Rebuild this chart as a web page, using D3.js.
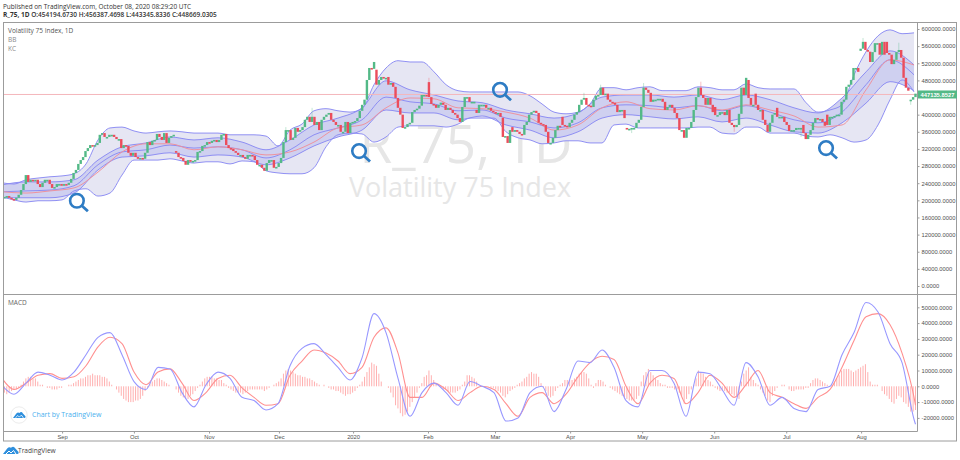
<!DOCTYPE html>
<html><head><meta charset="utf-8">
<script src="https://cdnjs.cloudflare.com/ajax/libs/d3/7.8.5/d3.min.js"></script>
<style>
html,body{margin:0;padding:0;background:#fff}
svg{display:block}
text{font-family:"Open Sans",sans-serif}
</style></head><body>
<svg id="c" width="960" height="460"></svg>
<script>
// prices in thousands, one close per daily bar
const closes=[206,208,210,206,203,201,206,213,224,238,259,243,248,245,248,238,231,241,248,248,238,229,231,238,238,234,238,236,241,250,264,271,285,294,301,315,322,329,327,329,334,353,357,348,348,353,353,348,343,343,322,329,327,311,304,311,301,297,299,297,311,336,329,339,341,355,348,341,357,334,346,350,353,311,301,299,292,283,294,290,292,294,313,315,327,329,336,334,339,341,336,341,353,355,329,322,320,315,311,306,306,301,297,306,306,304,294,283,283,276,269,287,294,294,276,278,287,299,336,364,364,341,346,369,360,364,371,388,395,383,395,376,383,364,388,395,400,404,388,383,376,376,360,360,383,357,381,383,385,392,409,423,435,481,509,507,523,470,481,488,486,486,470,474,465,439,416,400,369,371,378,381,406,411,414,421,446,446,444,441,425,423,416,423,428,423,411,416,411,404,400,392,383,418,441,441,430,430,430,404,423,423,423,416,416,409,406,402,404,395,348,350,334,364,360,364,360,355,353,376,383,400,406,409,404,381,378,376,360,334,334,346,364,374,371,376,374,371,381,388,400,406,423,435,439,423,421,418,435,444,446,463,446,449,435,430,428,423,406,411,411,392,367,367,369,369,381,388,418,463,458,451,430,435,435,437,437,430,411,418,423,416,404,392,364,364,346,369,369,383,411,441,463,446,439,423,439,423,406,399,399,406,406,399,411,381,376,371,376,402,463,446,486,439,423,423,423,411,411,388,376,360,381,400,404,395,395,395,383,376,362,364,364,369,369,369,357,343,353,364,381,392,390,390,383,374,376,395,395,397,400,400,430,435,465,470,481,509,509,500,554,570,551,547,523,546,567,567,540,570,540,544,540,518,528,546,551,533,486,463,456,435,441,449];
// bars whose open is not the previous close
const gapBars=[73,157,162,179,199,210,214,235,262,299,313,316,325,336,346,360,371,378,381];
const gapOpens=[315,505,488,476,411,393,371,395,369,418,481,449,416,376,400,549,570,533,433];
// visible wicks
const wickBars=[130,119,179,244,251,264,293,269,361,376,381,307,335];
const wickEnds=[416,371,486,451,470,357,477,474,579,568,423,360,348];
// Bollinger bands, read about every five bars
const bbUpper=[241,238,248,252,255,257,262,285,341,369,371,362,357,360,362,360,357,357,357,353,353,353,350,327,364,378,409,414,409,406,414,470,509,526,523,523,500,470,456,453,453,453,453,453,444,425,406,402,406,425,463,463,458,463,465,456,456,456,465,463,458,458,472,463,460,460,460,428,406,411,423,493,547,584,598,589,591];
const bbLower=[208,201,196,199,199,201,222,227,210,217,259,294,294,294,297,292,287,290,290,285,292,290,269,264,262,262,276,325,353,357,355,336,348,371,374,374,374,371,378,392,392,392,360,346,341,332,334,339,339,334,334,376,378,369,369,369,369,369,371,371,357,355,371,371,357,357,357,350,348,353,346,336,341,376,435,481,453];
// Keltner channel, read about every ten bars
const kcUpper=[236,243,243,248,294,325,334,348,341,346,336,318,341,376,392,416,479,458,446,432,428,411,402,392,404,441,446,446,441,446,435,446,435,416,404,439,500,549,516];
const kcLower=[206,206,206,217,271,301,304,311,301,306,301,283,299,327,348,364,411,404,404,388,397,376,364,346,360,392,400,395,390,395,383,392,376,360,357,381,427,477,456];
const kcMid=[220,222,224,234,283,313,318,329,322,325,318,299,318,353,369,388,441,430,425,409,411,392,383,369,381,416,423,421,416,421,409,421,406,388,381,406,470,528,493];
const bbMid=[220,217,222,229,266,313,332,332,318,325,318,306,313,336,369,376,416,439,437,416,414,406,392,364,376,416,430,414,411,421,411,423,411,397,371,376,458,528,516];
// MACD in thousands
const macdLine=[0.6,-5,2,9,7,4,9,20,31,34,20,3,-2,12,11,-4,-13,1,9,5,-7,-9,-15,-11,13,24,27,20,12,4,18,46,34,5,-19,-4,2,-4,-12,3,0,-4,-22,-20,-4,0,-16,-2,16,15,23,12,-9,-13,10,10,2,-19,9,8,-2,-12,15,6,-12,-7,-14,-16,-2,0,20,34,53,47,27,15,-21,-24];
const signalLine=[5,-2,2,7,8,5,6,13,25,31,27,9,1,9,11,2,-9,-4,5,7,-1,-7,-12,-11,7,16,23,21,16,8,12,31,37,21,-7,-7,2,-2,-9,-4,0,-2,-11,-19,-7,-4,-11,-5,6,15,19,17,0,-11,2,7,5,-11,-4,7,2,-7,1,10,-4,-7,-11,-14,-7,-2,12,29,44,46,39,21,-7,-12];
const histogram=[-3,-4,-5,-4,-3,-2,-2,-1,1,3,5,6,6,5,5,3,1,1,0,-1,-1,-2,-2,-2,-1,-1,0,0,1,1,2,3,4,5,5,6,7,7,8,7,7,7,6,6,5,3,1,0,-2,-4,-6,-8,-9,-10,-10,-10,-9,-9,-8,-6,-3,-1,2,3,4,5,5,4,3,2,1,0,0,-2,-4,-6,-7,-8,-8,-6,-5,-3,-1,1,3,5,6,6,6,5,5,4,4,2,1,-1,-2,-3,-4,-4,-4,-5,-4,-3,-2,-2,-2,-2,-2,-2,-3,-2,-1,0,1,2,3,5,8,10,11,10,9,8,7,7,6,6,5,5,4,3,2,1,0,1,0,-1,-2,-2,-3,-3,-4,-5,-6,-5,-5,-4,-3,-1,1,3,6,9,12,15,14,13,8,3,0,0,-1,-4,-7,-12,-14,-17,-19,-18,-16,-13,-10,-7,-4,-1,2,6,7,10,7,4,2,0,-1,-2,-2,-3,-4,-4,-4,-3,-2,1,3,7,7,6,5,3,0,0,0,0,0,-1,-1,-2,-3,-4,-6,-7,-5,-3,-2,-1,1,2,3,5,6,8,9,8,8,6,2,-1,-3,-6,-7,-6,-3,-1,1,2,4,4,4,4,5,6,8,9,9,8,5,1,-1,2,4,4,3,1,0,-1,-2,-3,-4,-5,-6,-7,-8,-9,-9,-9,-8,-6,3,7,9,11,9,7,5,4,2,1,1,-1,-1,-1,-2,-2,-4,-6,-11,-8,-5,-2,1,5,10,9,8,6,4,3,1,-1,-2,-3,-3,-3,-4,-4,-5,-6,-6,-8,3,8,10,12,6,4,2,1,-2,-4,-6,-9,-10,-6,-3,-1,0,1,1,0,-2,-3,-3,-2,-2,-2,-2,-1,-1,2,4,5,5,4,3,2,1,0,1,3,5,7,10,11,11,11,10,9,10,11,12,13,14,9,3,1,1,1,0,-3,-5,-6,-8,-10,-11,-8,-6,-7,-10,-11,-13,-16,-16,-15];
// labels
const priceTicks=[0,40,80,120,160,200,240,280,320,360,400,480,520,560,600];
const macdTicks=[-20,-10,0,10,20,30,40,50];
const timeLabels=["Sep","Oct","Nov","Dec","2020","Feb","Mar","Apr","May","Jun","Jul","Aug"];
const timeBars=[25.2,55.3,86.8,116.1,147.2,178.6,206.7,238.2,268.4,298.6,328.8,360.2];
const lastPrice=447.1358527;
const markerBars=[31.4,149.7,208.8,345.5];
const markerPrices=[199,315,458,322];
const title="Published on TradingView.com, October 08, 2020 08:29:20 UTC";
const symbolText="R_75, 1D";
const ohlcText="O:454194.6730 H:456387.4698 L:443345.8336 C:448669.0305";

const svg=d3.select("#c");
const LEFT=3.5,AXISX=917.5,RIGHT=956.5,TOP=22.5,SEP=294.5,AXISY=431.5,BOTTOM=441;
const x=d3.scaleLinear().domain([0,383]).range([2,915.5]);
const y=d3.scaleLinear().domain([0,600]).range([286,29]);
const ym=d3.scaleLinear().domain([-20,50]).range([417.9,307.3]);
const fine=j=>j*12/2.385, coarse=j=>j*24/2.385;

const defs=svg.append("defs");
defs.append("clipPath").attr("id","main").append("rect").attr("x",LEFT).attr("y",TOP).attr("width",AXISX-LEFT).attr("height",SEP-TOP);
defs.append("clipPath").attr("id","sub").append("rect").attr("x",LEFT).attr("y",SEP).attr("width",AXISX-LEFT).attr("height",AXISY-SEP);

// watermark
const wm=svg.append("g").attr("fill","#e6e6e6").style("font-family","'DejaVu Sans'").attr("text-anchor","middle");
wm.append("text").attr("x",466).attr("y",163).attr("font-size",53).text("R_75, 1D");
wm.append("text").attr("x",460).attr("y",197).attr("font-size",27).text("Volatility 75 Index");

const main=svg.append("g").attr("clip-path","url(#main)");
// fills
const bbRows=bbUpper.map((u,j)=>({b:fine(j),u,l:bbLower[j]}));
const kcRows=kcUpper.map((u,j)=>({b:coarse(j),u,l:kcLower[j]}));
const area=d3.area().x(d=>x(d.b)).y0(d=>y(d.l)).y1(d=>y(d.u)).curve(d3.curveMonotoneX);
main.append("path").attr("d",area(bbRows)).attr("fill","#e6e6f3");
main.append("path").attr("d",area(kcRows)).attr("fill","#cfd0f0");
const line=d3.line().x(d=>x(d[0])).y(d=>y(d[1])).curve(d3.curveMonotoneX);
const drawBand=(vals,pos,col)=>main.append("path").attr("d",line(vals.map((v,j)=>[pos(j),v]))).attr("fill","none").attr("stroke",col).attr("stroke-width",0.95);
drawBand(bbUpper,fine,"#8a8af2");drawBand(bbLower,fine,"#8a8af2");
drawBand(kcUpper,coarse,"#8a8af2");drawBand(kcLower,coarse,"#8a8af2");
drawBand(kcMid,coarse,"#8a8af2");drawBand(bbMid,coarse,"#ef8f9a");

// last price line
main.append("line").attr("x1",LEFT).attr("x2",AXISX).attr("y1",y(lastPrice)).attr("y2",y(lastPrice)).attr("stroke","#f4b6bc").attr("stroke-width",1);

// candles
const opens=closes.map((c,i)=>{const g=gapBars.indexOf(i);return g>=0?gapOpens[g]:(i?closes[i-1]:c)});
const colorOf=i=>closes[i]>=opens[i]?"#53b987":"#eb4d5c";
main.selectAll("line.wick").data(wickBars).join("line").attr("class","wick")
 .attr("x1",b=>x(b)).attr("x2",b=>x(b))
 .attr("y1",(b,k)=>y(wickEnds[k])).attr("y2",b=>y((closes[b]+opens[b])/2))
 .attr("stroke",b=>colorOf(b)).attr("stroke-opacity",0.35).attr("stroke-width",1);
main.selectAll("rect.c").data(closes).join("rect").attr("class","c")
 .attr("x",(c,i)=>x(i)-1.2).attr("width",2.4)
 .attr("y",(c,i)=>y(Math.max(c,opens[i])))
 .attr("height",(c,i)=>Math.max(1.6,Math.abs(y(c)-y(opens[i]))))
 .attr("fill",(c,i)=>colorOf(i));

// magnifiers
const mk=main.selectAll("g.m").data(markerBars).join("g").attr("class","m")
 .attr("transform",(b,k)=>`translate(${x(b)},${y(markerPrices[k])})`);
mk.append("circle").attr("r",6.8).attr("fill","none").attr("stroke","#2e7cc4").attr("stroke-width",2.6);
mk.append("line").attr("x1",5).attr("y1",5).attr("x2",11).attr("y2",10.5).attr("stroke","#2e7cc4").attr("stroke-width",2.8);

// MACD
const sub=svg.append("g").attr("clip-path","url(#sub)");
sub.selectAll("rect.h").data(histogram).join("rect").attr("class","h")
 .attr("x",(v,i)=>x(i)-0.5).attr("width",1)
 .attr("y",v=>Math.min(ym(v),ym(0))).attr("height",v=>Math.abs(ym(v)-ym(0)))
 .attr("fill","#ffb0b0");
const mpos=j=>j<77?fine(j):383;
const mline=d3.line().x(d=>x(d[0])).y(d=>ym(d[1])).curve(d3.curveMonotoneX);
sub.append("path").attr("d",mline(signalLine.map((v,j)=>[mpos(j),v]))).attr("fill","none").attr("stroke","#ff9090").attr("stroke-width",1.1);
sub.append("path").attr("d",mline(macdLine.map((v,j)=>[mpos(j),v]))).attr("fill","none").attr("stroke","#9898ff").attr("stroke-width",1.1);

// frames
const frame="#9c9c9c";
const fr=svg.append("g").attr("stroke",frame).attr("fill","none").attr("stroke-width",1);
fr.append("rect").attr("x",LEFT).attr("y",TOP).attr("width",RIGHT-LEFT).attr("height",BOTTOM-TOP);
fr.append("line").attr("x1",AXISX).attr("x2",AXISX).attr("y1",TOP).attr("y2",AXISY);
fr.append("line").attr("x1",LEFT).attr("x2",RIGHT).attr("y1",SEP).attr("y2",SEP);
fr.append("line").attr("x1",LEFT).attr("x2",AXISX).attr("y1",AXISY).attr("y2",AXISY);

// axes
const fmt=v=>(v*1000).toFixed(4);
const styleAxis=g=>{g.select(".domain").remove();g.selectAll("line").attr("stroke","#9c9c9c");
  g.selectAll("text").attr("fill","#4f4f4f").style("font-family","'Liberation Sans'").style("font-size","5.8px");};
svg.append("g").attr("transform",`translate(${AXISX},0)`).call(d3.axisRight(y).tickValues(priceTicks).tickFormat(fmt).tickSize(2).tickPadding(2)).call(styleAxis);
svg.append("g").attr("transform",`translate(${AXISX},0)`).call(d3.axisRight(ym).tickValues(macdTicks).tickFormat(fmt).tickSize(2).tickPadding(2)).call(styleAxis);
const timeScale=d3.scaleOrdinal().domain(timeLabels).range(timeBars.map(b=>x(b)));
svg.append("g").attr("transform",`translate(0,${AXISY})`).call(d3.axisBottom(timeScale).tickSize(2).tickPadding(1.5)).call(styleAxis);

// last price label
const py=y(lastPrice);
svg.append("rect").attr("x",AXISX+0.5).attr("y",py-4).attr("width",39).attr("height",8).attr("fill","#53b987");
svg.append("text").attr("x",AXISX+3).attr("y",py+2.1).attr("fill","#fff").style("font-family","'Liberation Sans'").style("font-size","5.8px").attr("font-weight",700).text(fmt(lastPrice));

// texts
const T=(tx,ty,s,size,fill,w)=>svg.append("text").attr("x",tx).attr("y",ty).attr("font-size",size).attr("fill",fill).attr("font-weight",w||400).text(s);
T(3,8.5,title,6.45,"#333");
const hdr=svg.append("text").attr("x",3).attr("y",17.3).attr("font-size",6.5).attr("fill","#333").attr("font-weight",700);
hdr.append("tspan").text(symbolText+" ");
hdr.append("tspan").attr("font-weight",600).text(ohlcText);
T(8,33,"Volatility 75 Index, 1D",6.5,"#555");
T(8,42,"BB",6.5,"#8a8a8a");
T(8,50.5,"KC",6.5,"#8a8a8a");
T(8,305.3,"MACD",6.5,"#666");
T(32,417.3,"Chart by TradingView",7,"#4ab0ee");
T(18,453,"TradingView",6.6,"#444");

// logos
const cloud="M0 8 L4.2 2.6 Q6 .6 8 1.8 Q10.5 -.6 12.4 2.4 L15.6 6 Q16 8 14.5 8 Z";
svg.append("circle").attr("cx",19).attr("cy",415).attr("r",8.2).attr("fill","#fff").attr("stroke","#ececec");
const l1=svg.append("g").attr("transform","translate(13,411.5) scale(.8)");
const l2=svg.append("g").attr("transform","translate(3,446)");
[l1,l2].forEach(g=>{g.append("path").attr("d",cloud).attr("fill","#2e8fdd");
 g.append("path").attr("d","M3 8 L6 5 L8 7 L10.5 4.5 L13 8").attr("fill","none").attr("stroke","#fff").attr("stroke-width",1);});
</script>
</body></html>
